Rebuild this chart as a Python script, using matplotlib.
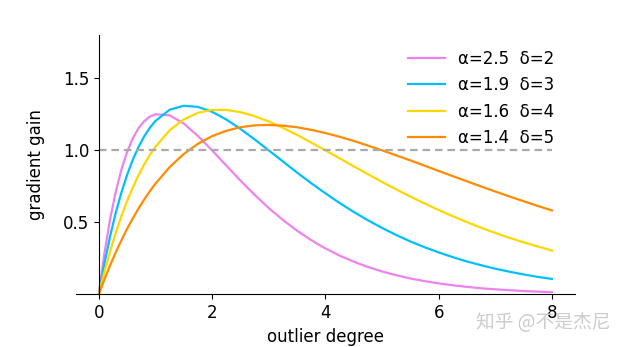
import matplotlib
matplotlib.use("Agg")
import matplotlib.pyplot as plt

beta = [0.0, 0.1, 0.2, 0.3, 0.4, 0.5, 0.6, 0.7, 0.8, 0.9, 1.0,
        1.25, 1.5, 1.75, 2.0, 2.25, 2.5, 2.75, 3.0, 3.25, 3.5, 3.75,
        4.0, 4.25, 4.5, 4.75, 5.0, 5.25, 5.5, 5.75, 6.0, 6.25, 6.5, 6.75, 7.0, 7.25, 7.5, 7.75, 8.0]

gain_a25_d2 = [0.0, 0.285, 0.520, 0.712, 0.866, 0.988, 1.082, 1.152, 1.201, 1.233, 1.250,
               1.243, 1.186, 1.100, 1.000, 0.895, 0.791, 0.692, 0.600, 0.517, 0.443, 0.377,
               0.320, 0.270, 0.228, 0.191, 0.160, 0.134, 0.111, 0.093, 0.077, 0.064, 0.053,
               0.043, 0.036, 0.030, 0.024, 0.020, 0.016]
gain_a19_d3 = [0.0, 0.214, 0.402, 0.566, 0.707, 0.829, 0.933, 1.021, 1.095, 1.155, 1.203,
               1.281, 1.309, 1.301, 1.267, 1.214, 1.149, 1.076, 1.000, 0.923, 0.846, 0.772,
               0.702, 0.635, 0.573, 0.515, 0.462, 0.413, 0.368, 0.328, 0.292, 0.259, 0.229,
               0.203, 0.179, 0.158, 0.139, 0.122, 0.108]
gain_a16_d4 = [0.0, 0.156, 0.298, 0.427, 0.543, 0.648, 0.741, 0.825, 0.900, 0.966, 1.024,
               1.138, 1.214, 1.260, 1.280, 1.280, 1.265, 1.237, 1.200, 1.156, 1.107, 1.054,
               1.000, 0.945, 0.889, 0.835, 0.781, 0.729, 0.679, 0.632, 0.586, 0.543, 0.502,
               0.463, 0.427, 0.393, 0.362, 0.333, 0.305]
gain_a14_d5 = [0.0, 0.104, 0.201, 0.292, 0.376, 0.455, 0.527, 0.595, 0.657, 0.715, 0.768,
               0.883, 0.974, 1.045, 1.098, 1.135, 1.160, 1.173, 1.176, 1.171, 1.160, 1.142,
               1.120, 1.094, 1.065, 1.033, 1.000, 0.965, 0.930, 0.894, 0.857, 0.821, 0.785,
               0.749, 0.714, 0.680, 0.647, 0.614, 0.583]

series = [gain_a25_d2, gain_a19_d3, gain_a16_d4, gain_a14_d5]
labels = ["α=2.5  δ=2", "α=1.9  δ=3", "α=1.6  δ=4", "α=1.4  δ=5"]
colors = ["violet", "deepskyblue", "gold", "darkorange"]

ref_x = [0, 8]
ref_y = [1.0, 1.0]

fig = plt.figure(figsize=(6.22, 3.47), dpi=100)
ax = fig.add_axes([0.1223, 0.1513, 0.8015, 0.7480])

for ys, lab, c in zip(series, labels, colors):
    ax.plot(beta, ys, color=c, lw=1.6, label=lab)
ax.plot(ref_x, ref_y, color="#aaaaaa", lw=1.6, ls=(0, (3.4, 2.2)))

ax.set_xlim(-0.4, 8.4)
ax.set_ylim(0, 1.8)
ax.set_xticks([0, 2, 4, 6, 8])
ax.set_yticks([0.5, 1.0, 1.5])
ax.tick_params(labelsize=12)
ax.spines["top"].set_visible(False)
ax.spines["right"].set_visible(False)
ax.spines["left"].set_position(("data", 0))
ax.set_xlabel("outlier degree", fontsize=12)
ax.set_ylabel("gradient gain", fontsize=12)
ax.yaxis.set_label_coords(-0.062, 0.5)
ax.legend(loc="upper right", frameon=False, fontsize=12, handlelength=2.2,
          bbox_to_anchor=(0.99, 1.0))

fig.text(0.982, 0.072, "知乎 @不是杰尼", ha="right", va="center", fontsize=13.5,
         color="#cccccc", family=["Noto Sans CJK SC", "DejaVu Sans"])

fig.savefig("out.png", dpi=100)
